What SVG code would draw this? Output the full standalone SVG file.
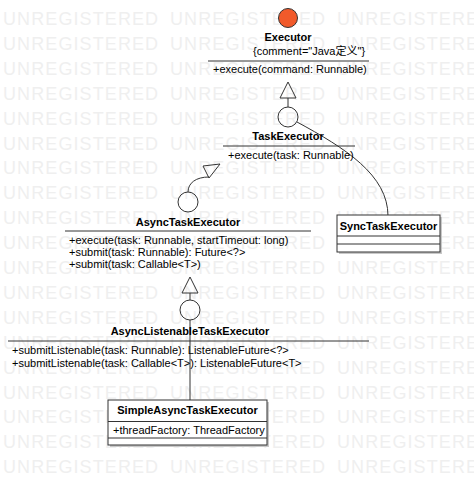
<svg xmlns="http://www.w3.org/2000/svg" xmlns:xlink="http://www.w3.org/1999/xlink" width="474" height="481" viewBox="0 0 474 481">
<style>
.wm{font-family:"Liberation Sans",Arial,sans-serif;font-size:18px;letter-spacing:1.1px;fill:#efefef}
.t{font-family:"Liberation Sans",Arial,"Noto Sans CJK SC",sans-serif;font-size:11px;fill:#000}
.b{font-weight:bold;text-anchor:middle}
.ln{stroke:#333;stroke-width:1;fill:none}
.box{fill:#fff;stroke:#333;stroke-width:1}
.sh{fill:#c8c8c8}
</style>
<defs>
<text id="wm" class="wm" y="25"><tspan x="3">UNREGISTERED</tspan><tspan x="170">UNREGISTERED</tspan><tspan x="337">UNREGISTERED</tspan></text>
</defs>
<rect width="474" height="481" fill="#fff"/>
<g id="watermark">
<use xlink:href="#wm"/>
<use xlink:href="#wm" y="24.9"/>
<use xlink:href="#wm" y="49.8"/>
<use xlink:href="#wm" y="74.7"/>
<use xlink:href="#wm" y="99.6"/>
<use xlink:href="#wm" y="124.5"/>
<use xlink:href="#wm" y="149.4"/>
<use xlink:href="#wm" y="174.3"/>
<use xlink:href="#wm" y="199.2"/>
<use xlink:href="#wm" y="224.1"/>
<use xlink:href="#wm" y="249"/>
<use xlink:href="#wm" y="273.9"/>
<use xlink:href="#wm" y="298.8"/>
<use xlink:href="#wm" y="323.7"/>
<use xlink:href="#wm" y="348.6"/>
<use xlink:href="#wm" y="373.5"/>
<use xlink:href="#wm" y="398.4"/>
<use xlink:href="#wm" y="423.3"/>
<use xlink:href="#wm" y="448.2"/>
</g>
<g id="connectors">
<polygon class="ln" points="288,82 280,98 296,98" fill="#fff"/>
<line class="ln" x1="288" y1="98" x2="288" y2="107"/>
<circle class="ln" cx="288" cy="117" r="10" fill="#fff"/>
<path class="ln" d="M297,122 C345,148 388,175 388,216"/>
<polygon class="ln" points="203,166 220,164 209,178" fill="#fff"/>
<path class="ln" d="M188,192 C188,183 196,177 209,177"/>
<circle class="ln" cx="188" cy="202" r="10" fill="#fff"/>
<polygon class="ln" points="190,277 182,293 198,293" fill="#fff"/>
<line class="ln" x1="190" y1="293" x2="190" y2="300"/>
<circle class="ln" cx="190" cy="310" r="10" fill="#fff"/>
<line class="ln" x1="190" y1="320" x2="190" y2="400"/>
</g>
<g id="Executor">
<circle cx="288" cy="18" r="9.5" fill="#f15a2b" stroke="#333" stroke-width="1"/>
<text class="t b" x="288" y="41">Executor</text>
<text class="t" x="253" y="55">{comment="Java定义"}</text>
<line class="ln" x1="208" y1="61" x2="369" y2="61"/>
<text class="t" x="213" y="73">+execute(command: Runnable)</text>
</g>
<g id="TaskExecutor">
<text class="t b" x="288" y="140">TaskExecutor</text>
<line class="ln" x1="223" y1="146" x2="355" y2="146"/>
<text class="t" x="228" y="159">+execute(task: Runnable)</text>
</g>
<g id="AsyncTaskExecutor">
<text class="t b" x="188" y="226">AsyncTaskExecutor</text>
<line class="ln" x1="65" y1="231" x2="311" y2="231"/>
<text class="t" x="69" y="244">+execute(task: Runnable, startTimeout: long)</text>
<text class="t" x="69" y="256">+submit(task: Runnable): Future&lt;?&gt;</text>
<text class="t" x="69" y="268">+submit(task: Callable&lt;T&gt;)</text>
</g>
<g id="AsyncListenableTaskExecutor">
<text class="t b" x="190" y="335">AsyncListenableTaskExecutor</text>
<line class="ln" x1="8" y1="341" x2="369" y2="341"/>
<text class="t" x="12" y="354">+submitListenable(task: Runnable): ListenableFuture&lt;?&gt;</text>
<text class="t" x="12" y="367">+submitListenable(task: Callable&lt;T&gt;): ListenableFuture&lt;T&gt;</text>
</g>
<g id="SyncTaskExecutor">
<rect class="sh" x="339" y="217" width="103" height="37"/>
<rect class="box" x="337" y="215" width="103" height="37"/>
<line class="ln" x1="337" y1="236" x2="440" y2="236"/>
<line class="ln" x1="337" y1="244" x2="440" y2="244"/>
<text class="t b" x="388.5" y="230">SyncTaskExecutor</text>
</g>
<g id="SimpleAsyncTaskExecutor">
<rect class="sh" x="110" y="402" width="159" height="45"/>
<rect class="box" x="108" y="400" width="159" height="45"/>
<line class="ln" x1="108" y1="421.5" x2="267" y2="421.5"/>
<line class="ln" x1="108" y1="438" x2="267" y2="438"/>
<text class="t b" x="187.5" y="414">SimpleAsyncTaskExecutor</text>
<text class="t" x="113" y="434">+threadFactory: ThreadFactory</text>
</g>
</svg>
